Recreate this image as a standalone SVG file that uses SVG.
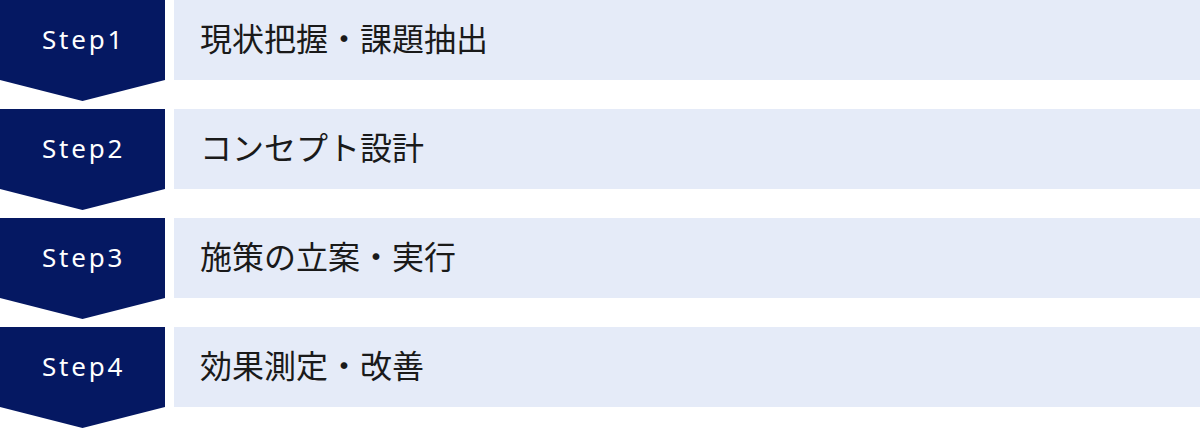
<svg xmlns="http://www.w3.org/2000/svg" width="1200" height="429" viewBox="0 0 1200 429">
  <style>
    .step { fill: #051862; }
    .panel { fill: #e5ebf8; }
    .stxt { font-family: "Noto Sans", "Noto Sans CJK JP", sans-serif; font-size: 26px; fill: #ffffff; letter-spacing: 2.8px; text-anchor: middle; }
    .ltxt { font-family: "Noto Sans CJK JP", "Noto Sans", sans-serif; font-size: 32px; fill: #1a1a1a; }
  </style>
  <rect width="1200" height="429" fill="#ffffff"/>
  <g id="connectors"></g>
  <g id="step1">
    <polygon class="step" points="0,0 165,0 165,80 82.5,101 0,80"/>
    <rect class="panel" x="174" y="0" width="1026" height="80"/>
    <text class="stxt" x="83.5" y="48.5">Step1</text>
    <text class="ltxt" x="200" y="51">現状把握・課題抽出</text>
  </g>
  <g id="step2">
    <polygon class="step" points="0,109 165,109 165,189 82.5,210 0,189"/>
    <rect class="panel" x="174" y="109" width="1026" height="80"/>
    <text class="stxt" x="83.5" y="157.5">Step2</text>
    <text class="ltxt" x="200" y="160">コンセプト設計</text>
  </g>
  <g id="step3">
    <polygon class="step" points="0,218 165,218 165,298 82.5,319 0,298"/>
    <rect class="panel" x="174" y="218" width="1026" height="80"/>
    <text class="stxt" x="83.5" y="266.5">Step3</text>
    <text class="ltxt" x="200" y="269">施策の立案・実行</text>
  </g>
  <g id="step4">
    <polygon class="step" points="0,327 165,327 165,407 82.5,428 0,407"/>
    <rect class="panel" x="174" y="327" width="1026" height="80"/>
    <text class="stxt" x="83.5" y="375.5">Step4</text>
    <text class="ltxt" x="200" y="378">効果測定・改善</text>
  </g>
</svg>
